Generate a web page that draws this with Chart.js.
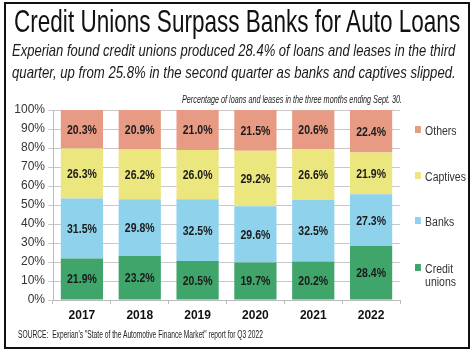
<!DOCTYPE html>
<html>
<head>
<meta charset="utf-8">
<script src="https://cdn.jsdelivr.net/npm/chart.js@4"></script>
<style>
  html, body { margin: 0; padding: 0; background: #fff; }
  #wrap { position: relative; width: 474px; height: 353px; overflow: hidden; }
  #frame { position: absolute; left: 4px; top: 2px; width: 462px; height: 343px; border: 2px solid #111; }
  .txt { position: absolute; white-space: nowrap; transform-origin: 0 0; color: #111; }
  #titulo { left: 14px; top: 3px; font: 32px "Liberation Sans", sans-serif; }
  .sub { left: 12px; font: italic 17px "Liberation Sans", sans-serif; color: #1a1a1a; }
  #nota { left: 182px; top: 94px; font: italic 10px "Liberation Sans", sans-serif; color: #222; }
  #fuente { left: 18px; top: 329px; font: 10px "Liberation Sans", sans-serif; color: #222; }
  .leyenda { position: absolute; left: 415px; font: 12.5px "Liberation Sans", sans-serif; color: #333; line-height: 13px; transform: scaleX(0.84); transform-origin: 0 0; white-space: nowrap; }
  .leyenda span { display: inline-block; width: 7px; height: 7px; margin-right: 5px; vertical-align: 2px; }
  canvas { position: absolute; left: 0; top: 0; }
</style>
</head>
<body>
<div id="wrap">
  <canvas id="grafico" width="474" height="353"></canvas>
  <div id="frame"></div>
  <div class="txt" id="titulo" data-w="446">Credit Unions Surpass Banks for Auto Loans</div>
  <div class="txt sub" style="top:41px" data-w="443">Experian found credit unions produced 28.4% of loans and leases in the third</div>
  <div class="txt sub" style="top:63px" data-w="444">quarter, up from 25.8% in the second quarter as banks and captives slipped.</div>
  <div class="txt" id="nota" data-w="220">Percentage of loans and leases in the three months ending Sept. 30.</div>
  <div class="txt" id="fuente" data-w="245">SOURCE:&nbsp; Experian's "State of the Automotive Finance Market" report for Q3 2022</div>
  <div id="leyendas"></div>
</div>
<script>
const anios = ["2017", "2018", "2019", "2020", "2021", "2022"];
const cooperativas = [21.9, 23.2, 20.5, 19.7, 20.2, 28.4];
const bancos = [31.5, 29.8, 32.5, 29.6, 32.5, 27.3];
const cautivas = [26.3, 26.2, 26.0, 29.2, 26.6, 21.9];
const otros = [20.3, 20.9, 21.0, 21.5, 20.6, 22.4];
const ticksY = [0, 10, 20, 30, 40, 50, 60, 70, 80, 90, 100];

const fuente = "'Liberation Sans', Arial, sans-serif";

// ajustar textos al ancho de la imagen original
document.querySelectorAll(".txt").forEach((el) => {
  const w = Number(el.dataset.w);
  const s = w / el.offsetWidth;
  el.style.transform = `scaleX(${s})`;
});

const series = [
  { label: "Credit unions", data: cooperativas, color: "#3FA56B", y: 263, lines: ["Credit", "unions"] },
  { label: "Banks", data: bancos, color: "#8FD2EC", y: 216, lines: ["Banks"] },
  { label: "Captives", data: cautivas, color: "#EBE67E", y: 171, lines: ["Captives"] },
  { label: "Others", data: otros, color: "#E79B84", y: 125, lines: ["Others"] }
];

const leyendas = document.querySelector("#leyendas");
series.forEach((s) => {
  const div = document.createElement("div");
  div.className = "leyenda";
  div.style.top = s.y + "px";
  div.innerHTML = `<span style="background:${s.color}"></span>${s.lines[0]}` +
    (s.lines[1] ? `<br><span style="background:transparent"></span>${s.lines[1]}` : "");
  leyendas.appendChild(div);
});

// etiquetas de porcentaje dentro de cada segmento (algo comprimidas)
const etiquetas = {
  id: "etiquetas",
  afterDatasetsDraw(chart) {
    const ctx = chart.ctx;
    chart.data.datasets.forEach((ds, i) => {
      chart.getDatasetMeta(i).data.forEach((bar, j) => {
        const yc = (bar.y + bar.base) / 2;
        ctx.save();
        ctx.translate(bar.x, yc + 1);
        ctx.scale(0.84, 1);
        ctx.font = "bold 12.5px " + fuente;
        ctx.fillStyle = "#1a1a1a";
        ctx.textAlign = "center";
        ctx.textBaseline = "middle";
        ctx.fillText(ds.data[j].toFixed(1) + "%", 0, 0);
        ctx.restore();
      });
    });
  }
};

new Chart(document.querySelector("#grafico"), {
  type: "bar",
  data: {
    labels: anios,
    datasets: series.map((s) => ({
      label: s.label,
      data: s.data,
      backgroundColor: s.color,
      borderWidth: 0,
      barPercentage: 0.73,
      categoryPercentage: 1
    }))
  },
  options: {
    responsive: false,
    animation: false,
    layout: { padding: { top: 110, right: 74, left: 0, bottom: 0 } },
    plugins: { legend: { display: false }, tooltip: { enabled: false } },
    scales: {
      x: {
        stacked: true,
        afterFit: (scale) => { scale.height = 53; },
        grid: { offset: true, drawOnChartArea: false, tickLength: 4, color: "#bbb" },
        border: { color: "#bbb" },
        ticks: {
          padding: 4,
          color: "#111",
          font: { family: fuente, size: 12, weight: "bold" }
        }
      },
      y: {
        stacked: true,
        min: 0,
        max: 100,
        afterFit: (scale) => { scale.width = 53; },
        afterBuildTicks: (scale) => { scale.ticks = ticksY.map((v) => ({ value: v })); },
        grid: { color: "#c8c8c8", tickLength: 5 },
        border: { color: "#bbb" },
        ticks: {
          padding: 3,
          color: "#333",
          font: { family: fuente, size: 12 },
          callback: (v) => v + "%"
        }
      }
    }
  },
  plugins: [etiquetas]
});
</script>
</body>
</html>
